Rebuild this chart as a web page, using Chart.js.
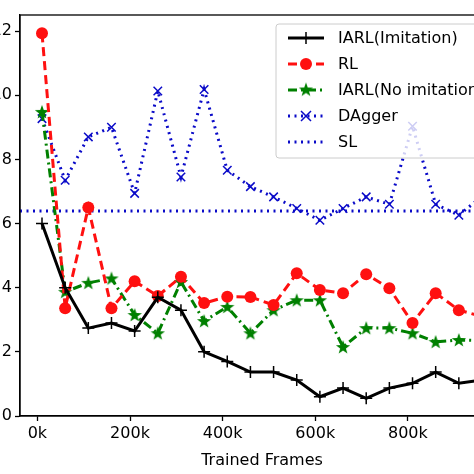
<!DOCTYPE html>
<html><head><meta charset="utf-8">
<script src="https://cdn.jsdelivr.net/npm/chart.js@4/dist/chart.umd.min.js"></script>
<style>html,body{margin:0;padding:0;overflow:hidden;background:#fff;width:474px;height:474px}
#w{position:absolute;left:-60px;top:0;width:600px;height:474px}</style>
</head><body><div id="w"><canvas id="c" width="600" height="474"></canvas></div>
<script>
const frames = [10,60,110,160,210,260,310,360,410,460,510,560,610,660,710,760,810,860,910,960];
const iarlImitation = [6.0,4.0,2.74,2.9,2.65,3.7,3.3,2.0,1.7,1.37,1.37,1.12,0.6,0.87,0.55,0.87,1.02,1.37,1.02,1.12];
const rl = [11.93,3.36,6.5,3.36,4.2,3.74,4.34,3.52,3.72,3.71,3.46,4.45,3.93,3.83,4.42,3.98,2.9,3.83,3.3,3.1];
const iarlNoImitation = [9.48,3.87,4.15,4.29,3.15,2.58,4.18,2.96,3.4,2.58,3.3,3.61,3.61,2.15,2.74,2.74,2.58,2.31,2.37,2.35];
const dagger = [9.27,7.35,8.7,9.0,6.94,10.13,7.45,10.18,7.66,7.15,6.83,6.47,6.1,6.47,6.83,6.6,9.03,6.6,6.26,6.85];
const slValue = 6.39;
const xTicks = [0,200,400,600,800,1000];
const yTicks = [0,2,4,6,8,10,12];
const XMIN=-37.5, XMAX=1007.5;

function star(color){const c=document.createElement('canvas');c.width=16;c.height=16;const g=c.getContext('2d');
g.fillStyle=color;g.beginPath();for(let i=0;i<10;i++){const r=i%2?3:7.5;const a=-Math.PI/2+i*Math.PI/5;g.lineTo(8+r*Math.cos(a),8.5+r*Math.sin(a));}g.closePath();g.fill();return c;}
const starImg=star('#008000');
const BLUE='#0a0ac8', RED='#ff1010', GREEN='#008000';
const pts=a=>frames.map((f,i)=>({x:f,y:a[i]}));
const ds=[
 {label:'IARL(Imitation)',data:pts(iarlImitation),borderColor:'#000',backgroundColor:'#000',borderWidth:3,pointStyle:'cross',pointRadius:6,pointBorderWidth:1.5},
 {label:'RL',data:pts(rl),borderColor:RED,backgroundColor:RED,borderWidth:3,borderDash:[9,5],pointStyle:'circle',pointRadius:6,pointBorderWidth:0},
 {label:'IARL(No imitation)',data:pts(iarlNoImitation),borderColor:GREEN,backgroundColor:GREEN,borderWidth:3,borderDash:[9,4,2,4],pointStyle:starImg,pointRadius:7},
 {label:'DAgger',data:pts(dagger),borderColor:BLUE,backgroundColor:BLUE,borderWidth:3,borderDash:[2,4.5],pointStyle:'crossRot',pointRadius:6,pointBorderWidth:1.5},
 {label:'SL',data:[{x:XMIN,y:slValue},{x:XMAX,y:slValue}],borderColor:BLUE,borderWidth:3,borderDash:[2,4.5],pointRadius:0}
];
const F="'DejaVu Sans'";
const frame={id:'frame',afterDatasetsDraw(ch){const {ctx,chartArea:a}=ch;ctx.save();ctx.strokeStyle='#000';ctx.lineWidth=1.3;ctx.strokeRect(a.left,a.top,a.right-a.left,a.bottom-a.top);
 // legend
 const lx=336,ly=24,lw=260,lh=134;ctx.fillStyle='rgba(255,255,255,0.8)';ctx.strokeStyle='#ccc';ctx.lineWidth=1;
 ctx.beginPath();ctx.roundRect(lx,ly,lw,lh,3);ctx.fill();ctx.stroke();
 ctx.font='16px '+F;ctx.textBaseline='middle';
 ds.forEach((d,i)=>{const y=ly+14+i*26;ctx.strokeStyle=d.borderColor;ctx.lineWidth=3;ctx.setLineDash(d.borderDash||[]);
  ctx.beginPath();ctx.moveTo(lx+12,y);ctx.lineTo(lx+48,y);ctx.stroke();ctx.setLineDash([]);
  const cx=lx+30;
  if(i===0){ctx.lineWidth=1.5;ctx.beginPath();ctx.moveTo(cx-6,y);ctx.lineTo(cx+6,y);ctx.moveTo(cx,y-6);ctx.lineTo(cx,y+6);ctx.stroke();}
  if(i===1){ctx.fillStyle=RED;ctx.beginPath();ctx.arc(cx,y,6,0,7);ctx.fill();}
  if(i===2){ctx.drawImage(starImg,cx-8,y-8.5);}
  if(i===3){ctx.lineWidth=1.5;ctx.beginPath();ctx.moveTo(cx-5,y-5);ctx.lineTo(cx+5,y+5);ctx.moveTo(cx-5,y+5);ctx.lineTo(cx+5,y-5);ctx.stroke();}
  ctx.fillStyle='#000';ctx.fillText(d.label,lx+62,y+1);});
 ctx.restore();}};
new Chart(document.getElementById('c'),{type:'line',data:{datasets:ds},plugins:[frame],
 options:{responsive:false,animation:false,layout:{padding:{top:15,right:36,left:0,bottom:0}},
  plugins:{legend:{display:false},tooltip:{enabled:false}},
  scales:{
   x:{type:'linear',min:XMIN,max:XMAX,afterBuildTicks:s=>{s.ticks=xTicks.map(v=>({value:v}));},afterFit:s=>{s.height=58;},
      grid:{drawOnChartArea:false,color:'#000',tickLength:5,tickWidth:1.3},border:{color:'#000',width:1.3},
      ticks:{color:'#000',font:{family:F,size:16},padding:3,callback:v=>v+'k',maxRotation:0},
      title:{display:true,text:'Trained Frames',color:'#000',font:{family:F,size:16},padding:{top:0}}},
   y:{min:0,max:12.5,afterBuildTicks:s=>{s.ticks=yTicks.map(v=>({value:v}));},afterFit:s=>{s.width=80;},
      grid:{drawOnChartArea:false,color:'#000',tickLength:5,tickWidth:1.3},border:{color:'#000',width:1.3},
      ticks:{color:'#000',font:{family:F,size:16},padding:3}}
  }}});
</script></body></html>
